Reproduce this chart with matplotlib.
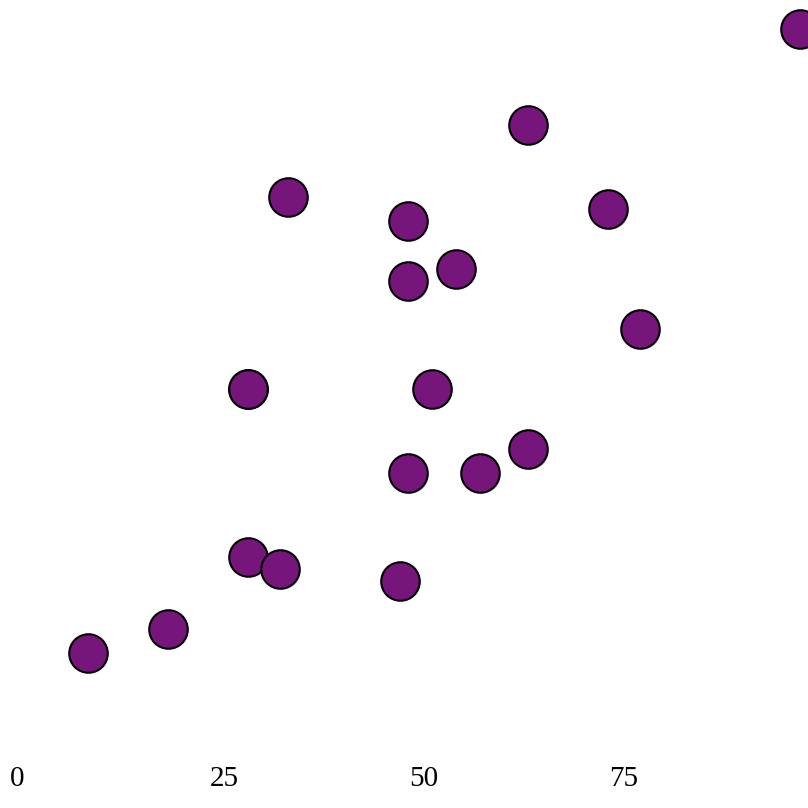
import matplotlib
matplotlib.use("Agg")
import matplotlib.pyplot as plt
import matplotlib.transforms as mtransforms

# values
x_vals = [10, 20, 30, 34, 49, 30, 50, 59, 65, 30, 53, 79, 50, 50, 56, 35, 75, 65, 99]
y_vals = [9, 11, 17, 16, 15, 31, 24, 24, 26, 31, 31, 36, 40, 45, 41, 47, 46, 53, 61]
x_ticks = [0, 25, 50, 75]

fig = plt.figure(figsize=(8.08, 8.08), dpi=100)
W = H = 808.0
# axes placed in pixels: x from 7.5 to 807.5, y from 0 to 760.5
ax = fig.add_axes([7.5 / W, (H - 760.5) / H, 800 / W, 760.5 / H])
ax.set_xlim(0, 100)
ax.set_ylim(0, 760.5 / 12)

ax.scatter(x_vals, y_vals, s=770, c="#76167a", edgecolors="black",
           linewidths=1.5, zorder=3, clip_on=False)

for s in ax.spines.values():
    s.set_visible(False)
ax.set_yticks([])
ax.set_xticks(x_ticks)
ax.set_xticklabels([str(t) for t in x_ticks], family="Liberation Serif", fontsize=21)
ax.tick_params(axis="x", length=0, pad=4)
offset = mtransforms.ScaledTranslation(2 / 100, 0, fig.dpi_scale_trans)
for lab in ax.get_xticklabels():
    lab.set_horizontalalignment("left")
    lab.set_transform(lab.get_transform() + offset)

fig.savefig("out.png", dpi=100)
